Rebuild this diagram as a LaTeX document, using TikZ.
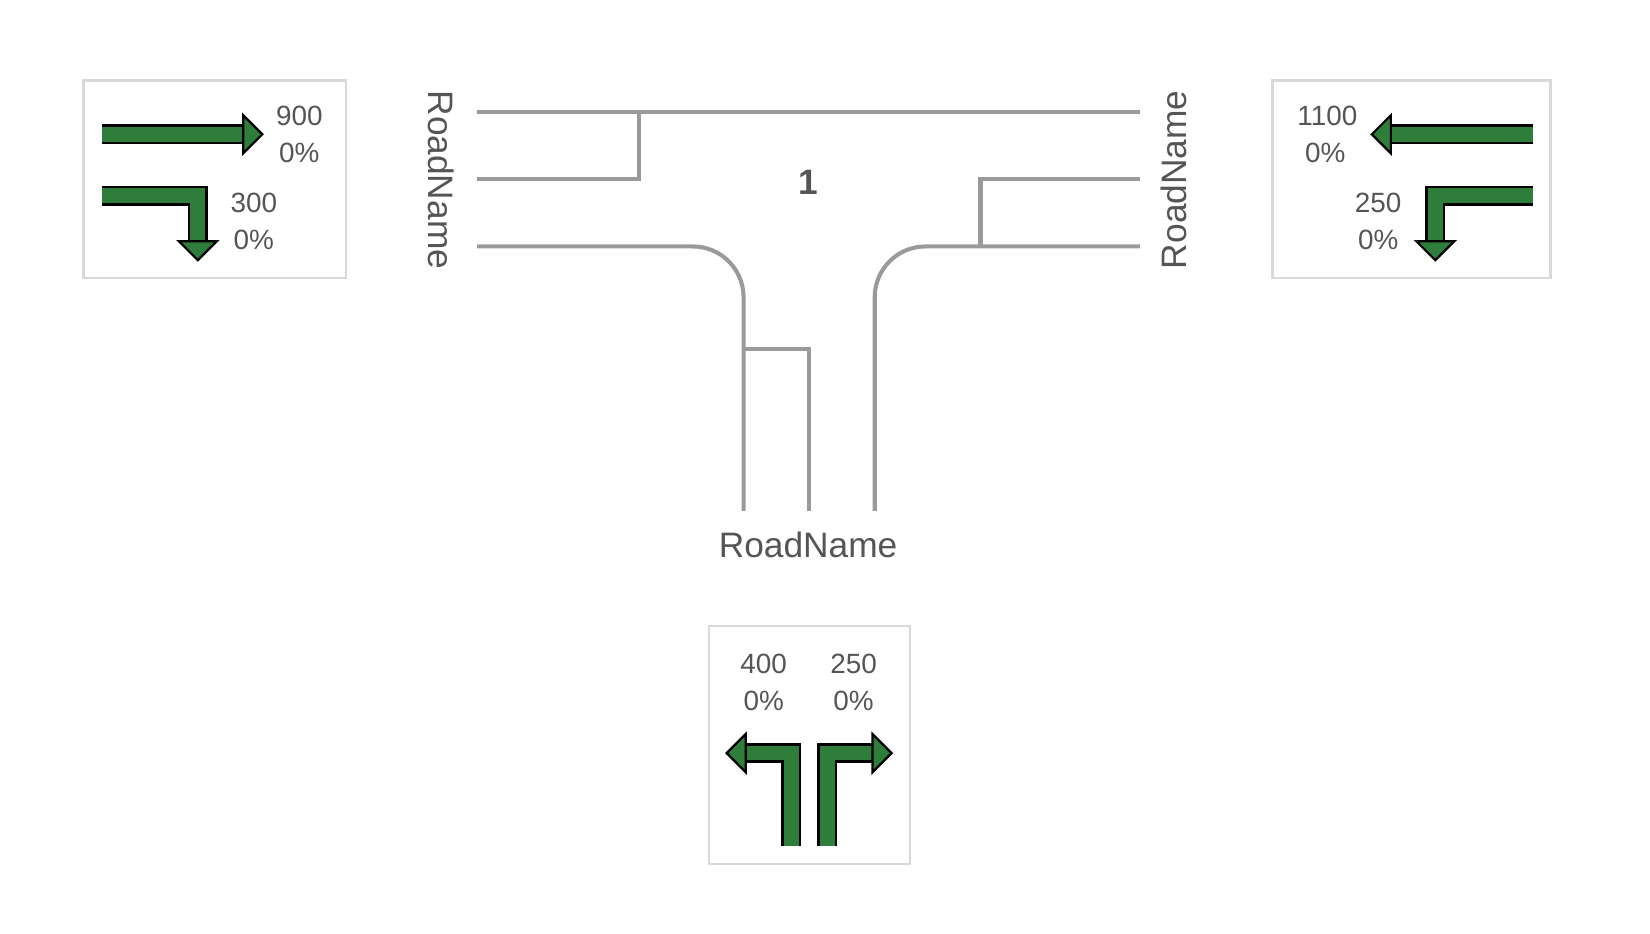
\documentclass[tikz,border=0pt]{standalone}
\usepackage{fontspec}
\setmainfont{Liberation Sans}
\definecolor{agreen}{HTML}{2E7D3A}
\definecolor{road}{HTML}{9A9A9A}
\definecolor{txt}{HTML}{555555}
\tikzset{
  box/.style={draw=black!15,line width=1.2pt},
  rd/.style={draw=road,line width=2.2pt},
  lbl/.style={text=txt,font=\fontsize{15}{17}\selectfont,inner sep=0pt},
  rn/.style={text=txt,font=\fontsize{19}{21}\selectfont,inner sep=0pt},
  shaftb/.style={draw=black,line width=19*0.02cm,line cap=butt},
  shaftg/.style={draw=agreen,line width=14*0.02cm,line cap=butt},
  headst/.style={fill=agreen,draw=black,line width=1.2pt,line join=miter}
}
\newcommand{\garrow}[3]{% path, head tip, head base ends
  \draw[shaftb] #1; \draw[shaftg] #1;
  \filldraw[headst] #2;}
\begin{document}
\begin{tikzpicture}[x=0.02cm,y=-0.02cm]
\useasboundingbox (0,0) rectangle (1560,883);
% boxes
\draw[box] (79,76) rectangle (327,263);
\draw[box] (1203,76) rectangle (1466,263);
\draw[box] (670,592) rectangle (860,817);
% left arrows
\garrow{(96,127) -- (232,127)}{(230,109) -- (248,127) -- (230,145) -- cycle}{}
\garrow{(96,185) -- (187,185) -- (187,230)}{(169,228) -- (205,228) -- (187,246) -- cycle}{}
\node[lbl] (t1) at (283,110) {900};
\node[lbl] (t2) at (283,145) {0\%};
\node[lbl] (t3) at (240,192) {300};
\node[lbl] (t4) at (240,227) {0\%};
% right arrows
\garrow{(1449,127) -- (1314,127)}{(1315,109) -- (1297,127) -- (1315,145) -- cycle}{}
\garrow{(1449,185) -- (1357,185) -- (1357,230)}{(1339,228) -- (1375,228) -- (1357,246) -- cycle}{}
\node[lbl] (t5) at (1255,110) {1100};
\node[lbl] (t6) at (1253,145) {0\%};
\node[lbl] (t7) at (1303,192) {250};
\node[lbl] (t8) at (1303,227) {0\%};
% bottom arrows
\garrow{(748,800) -- (748,712) -- (704,712)}{(705,694) -- (687,712) -- (705,730) -- cycle}{}
\garrow{(782,800) -- (782,712) -- (826,712)}{(825,694) -- (843,712) -- (825,730) -- cycle}{}
\node[lbl] (t9) at (722,628) {400};
\node[lbl] (t10) at (722,663) {0\%};
\node[lbl] (t11) at (807,628) {250};
\node[lbl] (t12) at (807,663) {0\%};
% roads
\draw[rd] (451,106) -- (1078,106);
\draw[rd] (451,169) -- (604,169) -- (604,106);
\draw[rd] (451,233) -- (655,233) arc[start angle=-90,end angle=0,radius=48] -- (703,483);
\draw[rd] (1078,233) -- (875,233) arc[start angle=270,end angle=180,radius=48] -- (827,483);
\draw[rd] (1078,169) -- (927,169) -- (927,233);
\draw[rd] (703,330) -- (765,330) -- (765,483);
\node[rn,font=\fontsize{19}{21}\selectfont\bfseries] (n1) at (764,172) {1};
\node[rn] (rb) at (764,515) {RoadName};
\node[rn,rotate=-90] (rl) at (417,170) {RoadName};
\node[rn,rotate=90] (rr) at (1110,170) {RoadName};
\end{tikzpicture}
\end{document}
